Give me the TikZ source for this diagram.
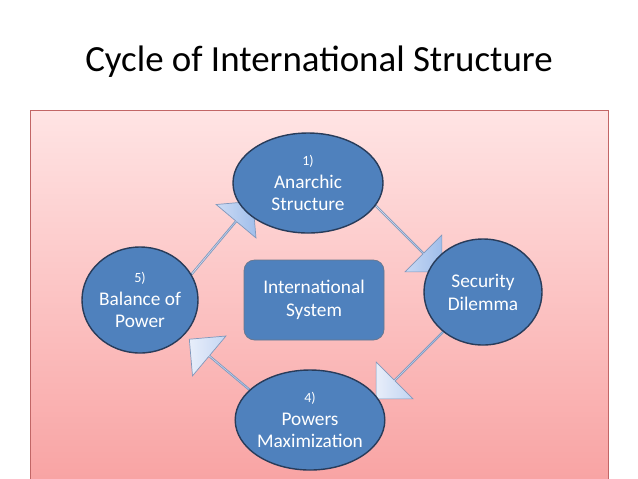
\documentclass[tikz,border=0pt]{standalone}
\usepackage{fontspec}
\setmainfont{Carlito}
\usetikzlibrary{shapes.arrows,shapes.geometric}
\definecolor{ovalblue}{RGB}{79,129,189}
\definecolor{ovalline}{RGB}{40,60,90}
\definecolor{arrowlight}{RGB}{232,238,250}
\definecolor{arrowdark}{RGB}{160,190,235}
\definecolor{panetop}{RGB}{255,228,228}
\definecolor{panebottom}{RGB}{248,160,160}
\begin{document}
\begin{tikzpicture}[x=0.02cm, y=-0.02cm,
    oval/.style={ellipse, draw=ovalline, thick, fill=ovalblue, text=white, align=center, inner sep=0pt},
    flow/.style={single arrow, draw=arrowdark!80!black, thin, left color=arrowlight, right color=arrowdark,
        minimum height=95*0.02cm, minimum width=52*0.02cm, single arrow head extend=11*0.02cm, inner sep=0pt},
    every node/.style={font=\fontsize{11}{13}\selectfont}
]
\useasboundingbox (0,0) rectangle (638,478);
\fill[white] (0,0) rectangle (638,478);
% pink panel
\shade[top color=panetop, bottom color=panebottom, draw=red!60!black!60] (30,110) rectangle (608,500);
\node[font=\fontsize{21}{24}\selectfont] (title) at (319,62) {Cycle of International Structure};
% arrows
\node[flow, rotate=50] (a1) at (222,238) {};
\node[flow, rotate=-45] (a2) at (408,238) {};
\node[flow, rotate=-135] (a3) at (410,365) {};
\node[flow, rotate=140] (a4) at (226,370) {};
% ovals
\node[oval, minimum width=150*0.02cm, minimum height=100*0.02cm] (anarchic) at (308,183)
    {{\fontsize{8}{10}\selectfont 1)}\\Anarchic\\Structure};
\node[oval, minimum width=118*0.02cm, minimum height=106*0.02cm] (dilemma) at (483,292)
    {Security\\Dilemma};
\node[oval, minimum width=146*0.02cm, minimum height=100*0.02cm] (powers) at (310,420)
    {\fontsize{8}{11}\selectfont 4)\\Powers\\Maximization};
\node[oval, minimum width=116*0.02cm, minimum height=106*0.02cm] (balance) at (140,300)
    {\fontsize{8}{11}\selectfont 5)\\Balance of\\Power};
\node[draw=ovalline!70, fill=ovalblue, text=white, rounded corners=6pt, align=center,
    minimum width=140*0.02cm, minimum height=80*0.02cm] (system) at (314,300) {International\\System};
\end{tikzpicture}
\end{document}
